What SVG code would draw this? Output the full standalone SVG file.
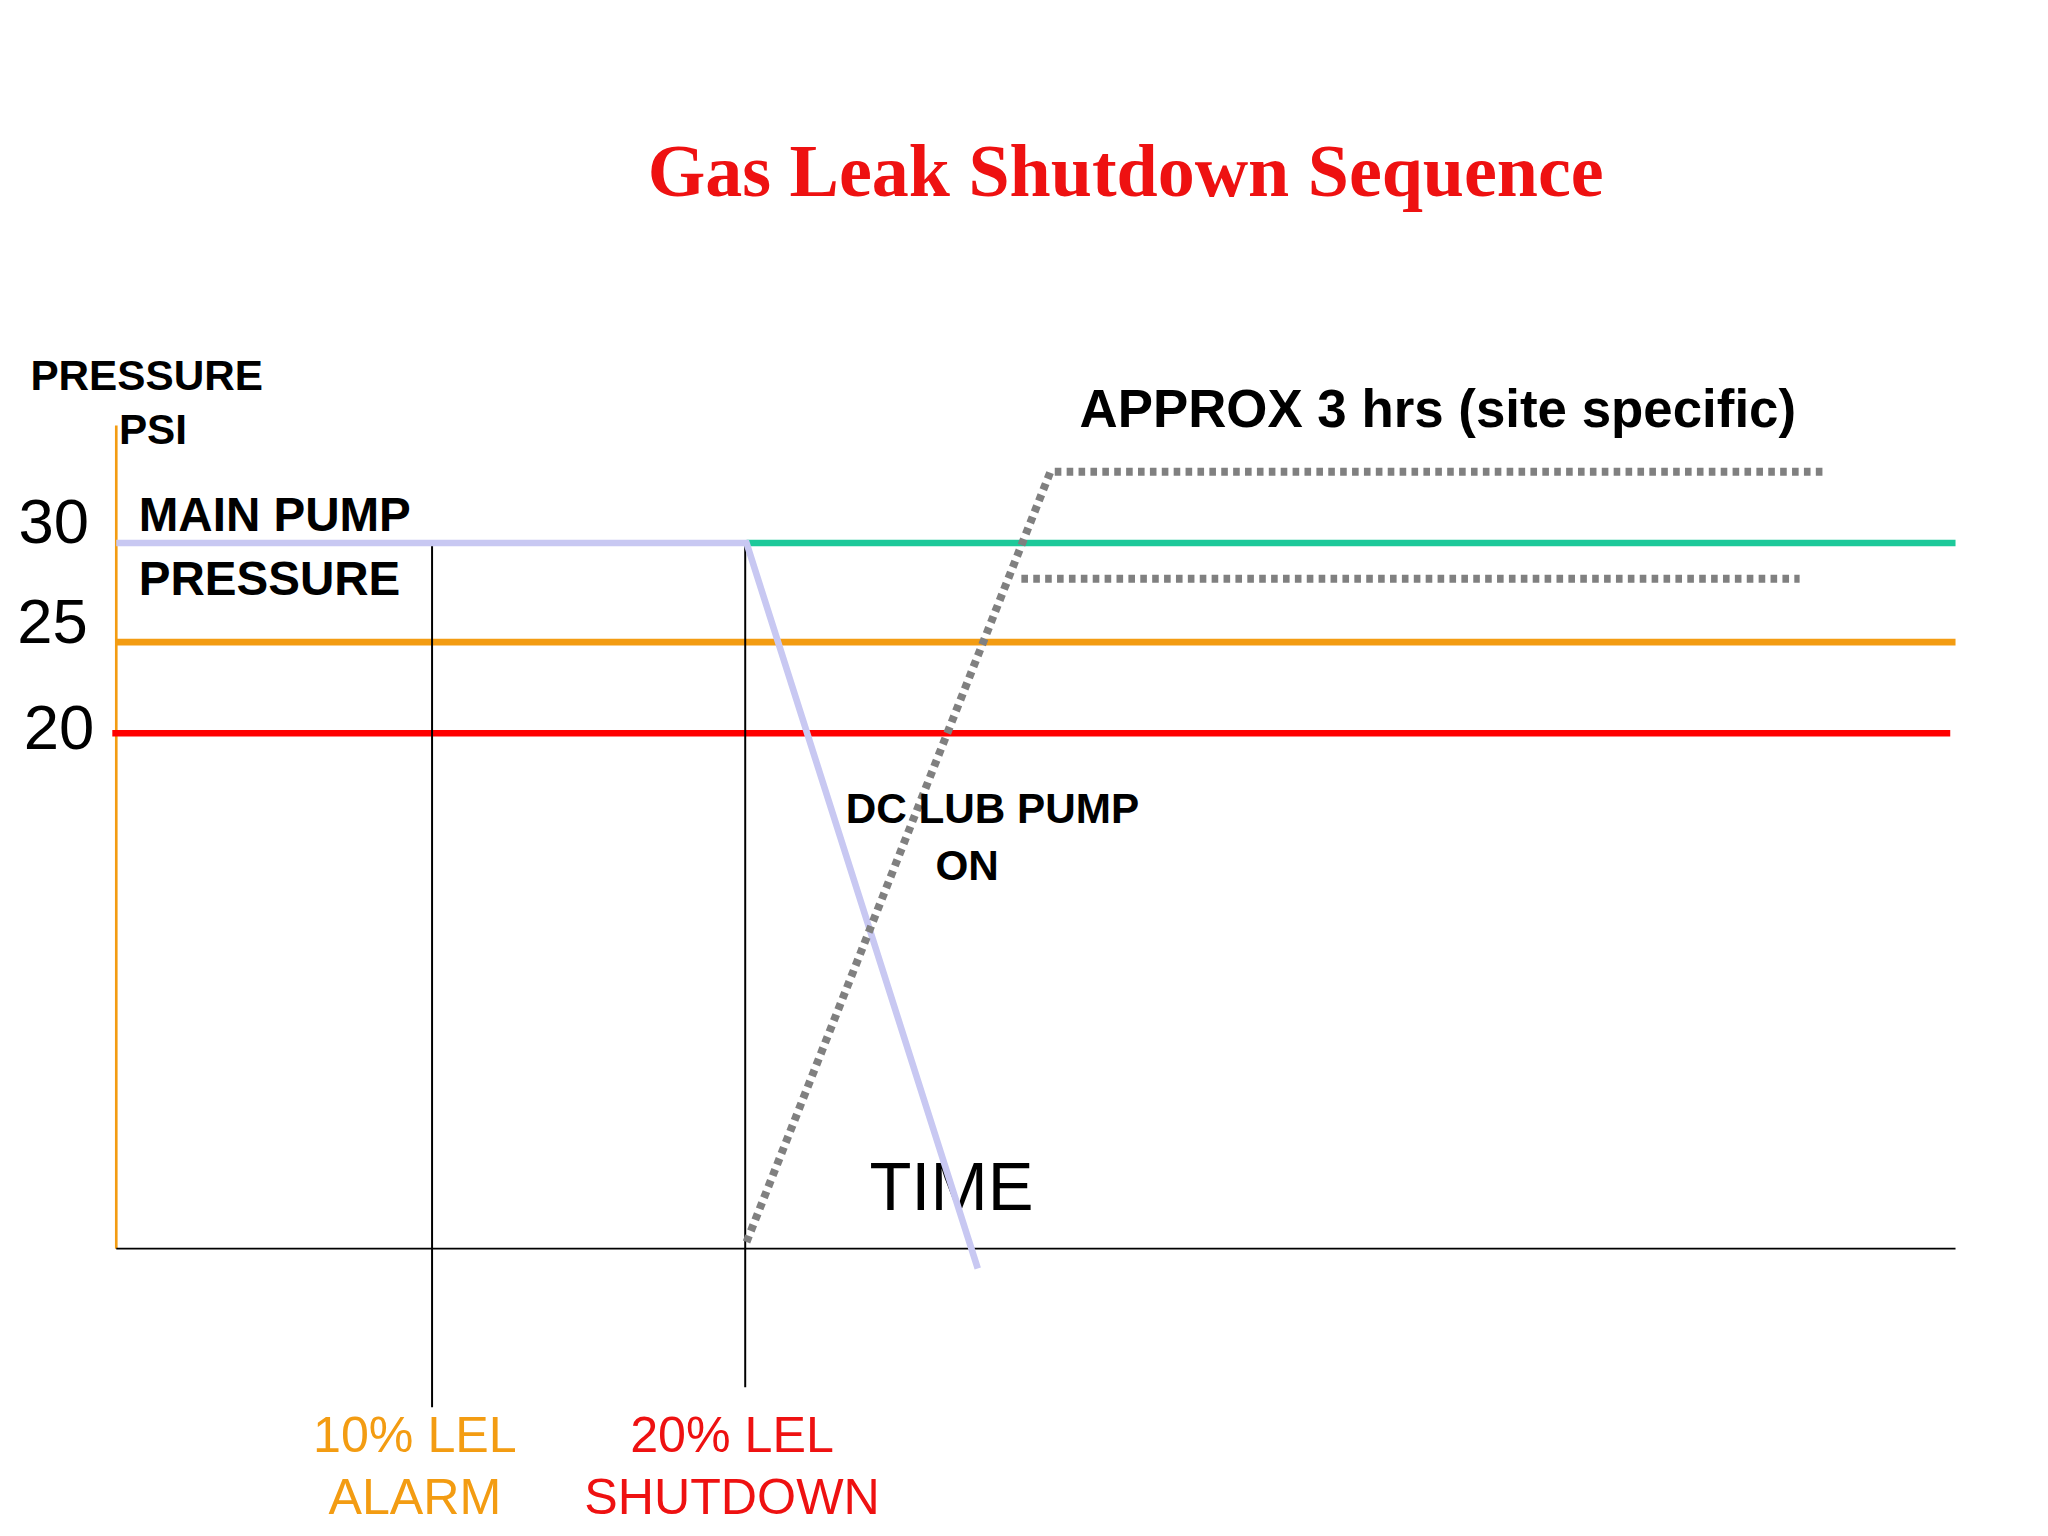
<svg xmlns="http://www.w3.org/2000/svg" width="2048" height="1536" viewBox="0 0 2048 1536">
<style>
.b{font-family:"Liberation Sans",Arial,sans-serif;font-weight:bold;fill:#000}
.r{font-family:"Liberation Sans",Arial,sans-serif;fill:#000}
</style>
<rect width="2048" height="1536" fill="#fff"/>
<g transform="scale(1.3213)">
<text x="852" y="148" text-anchor="middle" font-family="'Liberation Serif',serif" font-weight="bold" font-size="56" fill="#ee1111">Gas Leak Shutdown Sequence</text>
<g id="axes">
<line x1="88" y1="322" x2="88" y2="945" stroke="#f39c12" stroke-width="2"/>
<line x1="88" y1="945" x2="1480" y2="945" stroke="#000" stroke-width="1.5"/>
<text class="b" x="23" y="295" font-size="32">PRESSURE</text>
<text class="b" x="90" y="336" font-size="32">PSI</text>
<text class="r" x="14" y="411" font-size="48">30</text>
<text class="r" x="13" y="487" font-size="48">25</text>
<text class="r" x="18" y="567" font-size="48">20</text>
<text class="r" x="658" y="916" font-size="52">TIME</text>
</g>
<g id="connectors" fill="none">
<line x1="85" y1="555" x2="1476" y2="555" stroke="#ff0000" stroke-width="5"/>
<line x1="88" y1="486" x2="1480" y2="486" stroke="#f39c12" stroke-width="5"/>
<line x1="565" y1="411" x2="1480" y2="411" stroke="#1dc99a" stroke-width="5"/>
<line x1="327" y1="411" x2="327" y2="1065" stroke="#000" stroke-width="1.5"/>
<line x1="564" y1="411" x2="564" y2="1050" stroke="#000" stroke-width="1.5"/>
<polyline points="88,411 565,411 740,960" stroke="#c8c8f2" stroke-width="5"/>
<polyline points="565,940 795,357 1383,357" stroke="#808080" stroke-width="6" stroke-dasharray="5,4"/>
<line x1="773" y1="438" x2="1362" y2="438" stroke="#808080" stroke-width="6" stroke-dasharray="5,4"/>
</g>
<g id="labels">
<text class="b" x="105" y="402" font-size="36">MAIN PUMP</text>
<text class="b" x="105" y="450" font-size="36">PRESSURE</text>
<text class="b" x="640" y="623" font-size="32">DC LUB PUMP</text>
<text class="b" x="708" y="666" font-size="32">ON</text>
<text class="b" x="817" y="323" font-size="40">APPROX 3 hrs (site specific)</text>
<text class="r" x="314" y="1099" font-size="38" fill="#f39c12" text-anchor="middle" style="fill:#f39c12">10% LEL</text>
<text class="r" x="314" y="1146" font-size="38" text-anchor="middle" style="fill:#f39c12">ALARM</text>
<text class="r" x="554" y="1099" font-size="38" text-anchor="middle" style="fill:#ee1111">20% LEL</text>
<text class="r" x="554" y="1146" font-size="38" text-anchor="middle" style="fill:#ee1111">SHUTDOWN</text>
</g>
</g>
</svg>
